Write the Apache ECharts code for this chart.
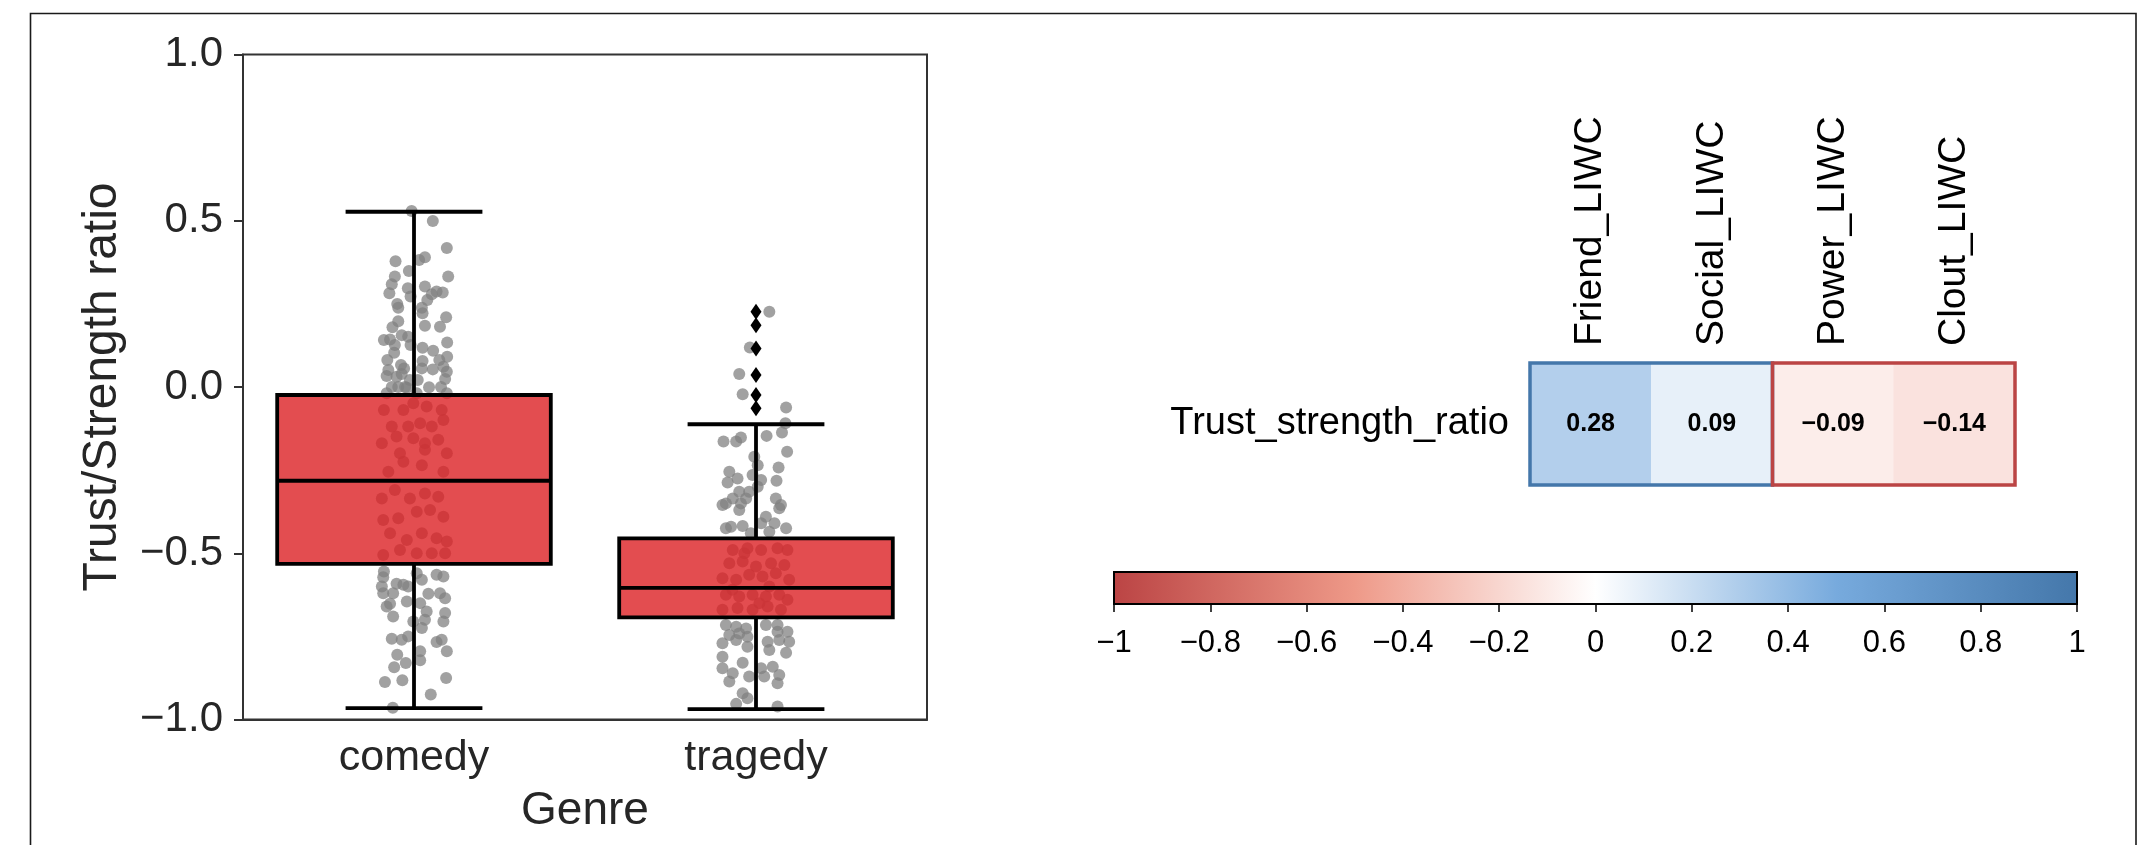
<!DOCTYPE html>
<html>
<head>
    <meta charset="utf-8">
    <title>Trust/Strength ratio</title>
    <script src="https://cdn.jsdelivr.net/npm/echarts@6/dist/echarts.min.js"></script>
    <style>
        html, body { margin: 0; padding: 0; background: #fff; }
        #main { width: 2146px; height: 845px; }
    </style>
</head>
<body>
<div id="main"></div>
<script type="text/javascript">
    // ---- box plot data ----
    var genres = ['comedy', 'tragedy'];
    // [whisker low, Q1, median, Q3, whisker high]
    var comedyStats = [-0.966, -0.532, -0.282, -0.024, 0.527];
    var tragedyStats = [-0.969, -0.693, -0.604, -0.455, -0.112];
    var tragedyOutliers = [0.226, 0.186, 0.116, 0.036, -0.024, -0.064];
    var yTicks = [-1.0, -0.5, 0.0, 0.5, 1.0];

    // strip points: [jitter (category units), value]
    var comedyPoints = [
        [-0.007, 0.529], [0.055, 0.499], [0.096, 0.418], [-0.054, 0.378], [0.032, 0.39], [0.015, 0.382],
        [-0.015, 0.349], [0.100, 0.332], [-0.056, 0.332], [-0.065, 0.309], [-0.072, 0.282], [-0.018, 0.297],
        [-0.010, 0.272], [0.032, 0.302], [0.066, 0.287], [0.052, 0.279], [0.084, 0.284], [0.039, 0.262],
        [-0.049, 0.25], [-0.046, 0.238], [0.023, 0.238], [0.025, 0.222], [0.094, 0.21], [-0.046, 0.198],
        [-0.063, 0.18], [0.032, 0.184], [0.076, 0.181], [-0.036, 0.156], [-0.088, 0.141], [-0.070, 0.143],
        [-0.056, 0.126], [-0.017, 0.151], [-0.010, 0.126], [0.025, 0.118], [0.097, 0.134], [0.056, 0.109],
        [0.097, 0.091], [-0.058, 0.103], [-0.078, 0.081], [0.025, 0.078], [0.023, 0.056], [-0.038, 0.066],
        [-0.029, 0.056], [0.074, 0.081], [0.086, 0.061], [0.096, 0.046], [0.055, 0.053], [-0.075, 0.051],
        [-0.080, 0.033], [-0.051, 0.031], [-0.036, 0.039], [0.091, 0.024], [0.011, 0.021], [-0.012, 0.021],
        [-0.065, 0.0], [-0.046, 0.0], [-0.026, 0.0], [-0.021, -0.002], [0.044, -0.001], [0.079, 0.0],
        [0.096, -0.019], [-0.080, -0.019], [0.008, -0.019],
        [-0.088, -0.069], [-0.031, -0.069], [-0.002, -0.049], [0.037, -0.059], [0.081, -0.069],
        [-0.065, -0.119], [-0.017, -0.119], [0.018, -0.109], [0.052, -0.119], [0.086, -0.099],
        [-0.094, -0.169], [-0.051, -0.149], [-0.002, -0.154], [0.032, -0.169], [0.071, -0.159],
        [-0.041, -0.199], [0.032, -0.189], [0.096, -0.199],
        [-0.075, -0.255], [-0.031, -0.225], [0.023, -0.235], [0.086, -0.255],
        [-0.094, -0.335], [-0.056, -0.31], [-0.012, -0.335], [0.032, -0.32], [0.071, -0.33],
        [-0.090, -0.40], [-0.046, -0.395], [0.008, -0.375], [0.047, -0.37], [0.086, -0.39],
        [-0.070, -0.44], [-0.021, -0.46], [0.023, -0.44], [0.066, -0.455], [0.096, -0.465],
        [-0.090, -0.505], [-0.041, -0.49], [0.008, -0.50], [0.052, -0.50], [0.091, -0.50],
        [-0.088, -0.555], [-0.090, -0.572], [-0.094, -0.60], [-0.090, -0.62], [-0.051, -0.592],
        [-0.031, -0.595], [-0.017, -0.60], [0.008, -0.56], [0.023, -0.58], [0.066, -0.565],
        [0.086, -0.57], [0.076, -0.62], [0.091, -0.635], [0.042, -0.622], [0.018, -0.65],
        [-0.061, -0.62], [-0.021, -0.645], [-0.080, -0.66], [-0.070, -0.652], [0.037, -0.675],
        [0.091, -0.68], [-0.061, -0.69], [0.086, -0.705], [-0.002, -0.705], [0.032, -0.70],
        [0.023, -0.725], [-0.065, -0.757], [-0.036, -0.76], [-0.017, -0.75], [0.066, -0.767],
        [0.081, -0.76], [0.096, -0.795], [0.018, -0.795], [-0.049, -0.805], [-0.024, -0.83],
        [0.018, -0.822], [-0.058, -0.843], [-0.085, -0.887], [-0.034, -0.882], [0.094, -0.875],
        [0.049, -0.925], [-0.062, -0.965]
    ];
    var tragedyPoints = [
        [0.039, 0.226], [-0.018, 0.119], [-0.049, 0.039], [-0.039, -0.022], [0.088, -0.062],
        [0.086, -0.109], [0.076, -0.137], [0.031, -0.147], [-0.095, -0.164], [-0.058, -0.164],
        [-0.044, -0.152], [0.091, -0.195], [-0.005, -0.21], [0.005, -0.235], [0.066, -0.242],
        [-0.078, -0.255], [-0.054, -0.275], [-0.083, -0.287], [-0.010, -0.265], [0.015, -0.28],
        [0.060, -0.282], [0.005, -0.30], [-0.049, -0.315], [-0.068, -0.335], [-0.029, -0.335],
        [-0.088, -0.35], [-0.044, -0.35], [-0.020, -0.315], [0.058, -0.335], [0.073, -0.355],
        [-0.098, -0.355], [-0.049, -0.37], [0.068, -0.365], [-0.088, -0.425], [-0.073, -0.42],
        [-0.039, -0.418], [0.015, -0.41], [0.029, -0.39], [0.054, -0.41], [0.088, -0.425],
        [-0.015, -0.44], [0.039, -0.435],
        [-0.068, -0.49], [-0.025, -0.485], [0.015, -0.49], [0.063, -0.485], [0.092, -0.49],
        [-0.078, -0.53], [-0.039, -0.525], [0.0, -0.54], [0.044, -0.53], [0.083, -0.535],
        [-0.098, -0.575], [-0.058, -0.58], [-0.020, -0.565], [0.019, -0.57], [0.058, -0.56],
        [0.097, -0.58], [-0.088, -0.625], [-0.049, -0.63], [-0.010, -0.625], [0.029, -0.63],
        [0.068, -0.625], [0.092, -0.64], [-0.098, -0.67], [-0.054, -0.665], [-0.010, -0.67],
        [0.034, -0.66], [0.073, -0.67], [-0.034, -0.50], [0.039, -0.60], [-0.069, -0.61], [0.010, -0.65],
        [-0.088, -0.716], [-0.058, -0.721], [-0.029, -0.726], [0.029, -0.716], [0.063, -0.716],
        [-0.078, -0.746], [-0.049, -0.741], [-0.025, -0.751], [0.063, -0.736], [0.092, -0.736],
        [-0.098, -0.771], [-0.058, -0.761], [0.034, -0.766], [0.068, -0.761], [0.097, -0.766],
        [-0.025, -0.781], [0.039, -0.791], [0.088, -0.799], [-0.098, -0.811], [-0.039, -0.829],
        [-0.098, -0.846], [0.049, -0.841], [-0.068, -0.861], [-0.020, -0.871], [0.015, -0.846],
        [0.024, -0.871], [0.068, -0.866], [-0.078, -0.886], [0.063, -0.891], [-0.039, -0.921],
        [-0.025, -0.936], [-0.058, -0.953], [0.063, -0.961]
    ];

    // ---- correlation heatmap data ----
    var liwcCols = ['Friend_LIWC', 'Social_LIWC', 'Power_LIWC', 'Clout_LIWC'];
    var corrRows = ['Trust_strength_ratio'];
    var corrValues = [0.28, 0.09, -0.09, -0.14];
    var colGroups = [[0, 1], [2, 3]];
    var palette = ['#BB4444', '#EE9988', '#FFFFFF', '#77AADD', '#4477AA'];
    var barTicks = [-1, -0.8, -0.6, -0.4, -0.2, 0, 0.2, 0.4, 0.6, 0.8, 1];

    var FONT = 'Liberation Sans, Arial, sans-serif';
    var INK = '#262626';

    function minus(s) { return String(s).replace('-', '\u2212'); }

    var boxData = [[0].concat(comedyStats), [1].concat(tragedyStats)];
    var stripData = [];
    comedyPoints.forEach(function (p) { stripData.push([0 + p[0], p[1]]); });
    tragedyPoints.forEach(function (p) { stripData.push([1 + p[0], p[1]]); });
    var outlierData = tragedyOutliers.map(function (v) { return [1, v]; });
    var heatData = corrValues.map(function (v, i) { return [i, 0, v]; });

    function renderBox(params, api) {
        var i = api.value(0);
        var x = api.coord([i, 0])[0];
        var bw = api.size([1, 0])[0] * 0.8;
        var yLow = api.coord([i, api.value(1)])[1];
        var yQ1 = api.coord([i, api.value(2)])[1];
        var yMed = api.coord([i, api.value(3)])[1];
        var yQ3 = api.coord([i, api.value(4)])[1];
        var yHigh = api.coord([i, api.value(5)])[1];
        var ls = {stroke: '#000', lineWidth: 3.8};
        return {
            type: 'group',
            children: [
                {type: 'line', shape: {x1: x, y1: yHigh, x2: x, y2: yQ3}, style: ls},
                {type: 'line', shape: {x1: x, y1: yQ1, x2: x, y2: yLow}, style: ls},
                {type: 'line', shape: {x1: x - bw / 4, y1: yHigh, x2: x + bw / 4, y2: yHigh}, style: ls},
                {type: 'line', shape: {x1: x - bw / 4, y1: yLow, x2: x + bw / 4, y2: yLow}, style: ls},
                {type: 'rect', shape: {x: x - bw / 2, y: yQ3, width: bw, height: yQ1 - yQ3},
                    style: {fill: 'rgba(220,32,36,0.8)', stroke: '#000', lineWidth: 3.8}},
                {type: 'line', shape: {x1: x - bw / 2, y1: yMed, x2: x + bw / 2, y2: yMed}, style: ls}
            ]
        };
    }

    function renderGroups(params, api) {
        var a = api.value(0), b = api.value(1);
        var size = api.size([1, 1]);
        var p0 = api.coord([a, 0]);
        var p1 = api.coord([b, 0]);
        var positive = corrValues[a] >= 0;
        return {
            type: 'rect',
            shape: {x: p0[0] - size[0] / 2, y: p0[1] - size[1] / 2, width: p1[0] - p0[0] + size[0], height: size[1]},
            style: {fill: 'none', stroke: positive ? palette[4] : palette[0], lineWidth: 3.5}
        };
    }

    function renderBar(params, api) {
        var p0 = api.coord([-1, 1]);
        var p1 = api.coord([1, 0]);
        var stops = palette.map(function (c, k) { return {offset: k / (palette.length - 1), color: c}; });
        return {
            type: 'rect',
            shape: {x: p0[0], y: p0[1], width: p1[0] - p0[0], height: p1[1] - p0[1]},
            style: {fill: new echarts.graphic.LinearGradient(0, 0, 1, 0, stops), stroke: '#000', lineWidth: 2}
        };
    }

    var myChart = echarts.init(document.getElementById('main'), null, {renderer: 'canvas'});

    var option = {
        animation: false,
        backgroundColor: '#fff',
        textStyle: {fontFamily: FONT},
        graphic: [{
            type: 'polyline',
            shape: {points: [[30.5, 845], [30.5, 13.5], [2136, 13.5], [2136, 845]]},
            style: {fill: 'none', stroke: '#1a1a1a', lineWidth: 1.6}
        }],
        grid: [
            {left: 243, top: 54.5, width: 684, height: 665, show: true, borderColor: '#333', borderWidth: 2},
            {left: 1530, top: 363, width: 485, height: 122},
            {left: 1114, top: 572, width: 963, height: 32}
        ],
        xAxis: [
            {
                gridIndex: 0, type: 'category', data: genres,
                axisLine: {onZero: false, lineStyle: {color: '#333', width: 2}},
                axisTick: {alignWithLabel: true, length: 11, lineStyle: {color: '#333', width: 2}},
                axisLabel: {fontSize: 43, color: INK, margin: 17, fontFamily: FONT},
                name: 'Genre', nameLocation: 'middle', nameGap: 69,
                nameTextStyle: {fontSize: 46, color: INK, fontFamily: FONT}
            },
            {gridIndex: 0, type: 'value', min: -0.5, max: 1.5, show: false, axisLine: {onZero: false}},
            {
                gridIndex: 1, type: 'category', data: liwcCols, position: 'top',
                axisLine: {show: false}, axisTick: {show: false},
                axisLabel: {rotate: -90, fontSize: 39, color: '#000', margin: 17, fontFamily: FONT}
            },
            {
                gridIndex: 2, type: 'value', min: -1, max: 1, interval: 0.2,
                splitLine: {show: false}, axisLine: {show: false},
                axisTick: {show: true, length: 8, lineStyle: {color: '#000', width: 1.5}},
                axisLabel: {
                    fontSize: 31, color: '#000', margin: 24, fontFamily: FONT,
                    formatter: function (v) { return minus(Math.round(v * 10) / 10); }
                }
            }
        ],
        yAxis: [
            {
                gridIndex: 0, type: 'value', min: -1, max: 1, interval: 0.5,
                splitLine: {show: false},
                axisLine: {show: true, onZero: false, lineStyle: {color: '#333', width: 2}},
                axisTick: {show: true, length: 9, lineStyle: {color: '#333', width: 2}},
                axisLabel: {
                    fontSize: 42, color: INK, margin: 20, fontFamily: FONT,
                    formatter: function (v) { return minus(v.toFixed(1)); }
                },
                name: 'Trust/Strength ratio', nameLocation: 'middle', nameGap: 116,
                nameTextStyle: {fontSize: 48, color: INK, fontFamily: FONT}
            },
            {
                gridIndex: 1, type: 'category', data: corrRows,
                axisLine: {show: false}, axisTick: {show: false},
                axisLabel: {fontSize: 38, color: '#000', margin: 21, fontFamily: FONT}
            },
            {gridIndex: 2, type: 'value', min: 0, max: 1, show: false}
        ],
        visualMap: {
            show: false, type: 'continuous', min: -1, max: 1, dimension: 2,
            seriesIndex: 3, inRange: {color: palette}
        },
        series: [
            {
                type: 'scatter', xAxisIndex: 1, yAxisIndex: 0, z: 2,
                data: stripData, symbol: 'circle', symbolSize: 12,
                itemStyle: {color: '#808080', opacity: 0.74}, silent: true
            },
            {
                type: 'custom', xAxisIndex: 1, yAxisIndex: 0, z: 3,
                renderItem: renderBox, data: boxData, silent: true
            },
            {
                type: 'scatter', xAxisIndex: 1, yAxisIndex: 0, z: 4,
                data: outlierData, symbol: 'diamond', symbolSize: [11, 16],
                itemStyle: {color: '#000', opacity: 1}, silent: true
            },
            {
                type: 'heatmap', xAxisIndex: 2, yAxisIndex: 1,
                data: heatData,
                label: {
                    show: true, fontSize: 25, fontWeight: 'bold', color: '#000', fontFamily: FONT,
                    formatter: function (p) { return minus(p.value[2].toFixed(2)); }
                },
                emphasis: {disabled: true}, silent: true
            },
            {
                type: 'custom', xAxisIndex: 2, yAxisIndex: 1, z: 5,
                renderItem: renderGroups, data: colGroups, silent: true
            },
            {
                type: 'custom', xAxisIndex: 3, yAxisIndex: 2,
                renderItem: renderBar, data: [[0, 0]], silent: true
            }
        ]
    };

    myChart.setOption(option);
</script>
</body>
</html>
